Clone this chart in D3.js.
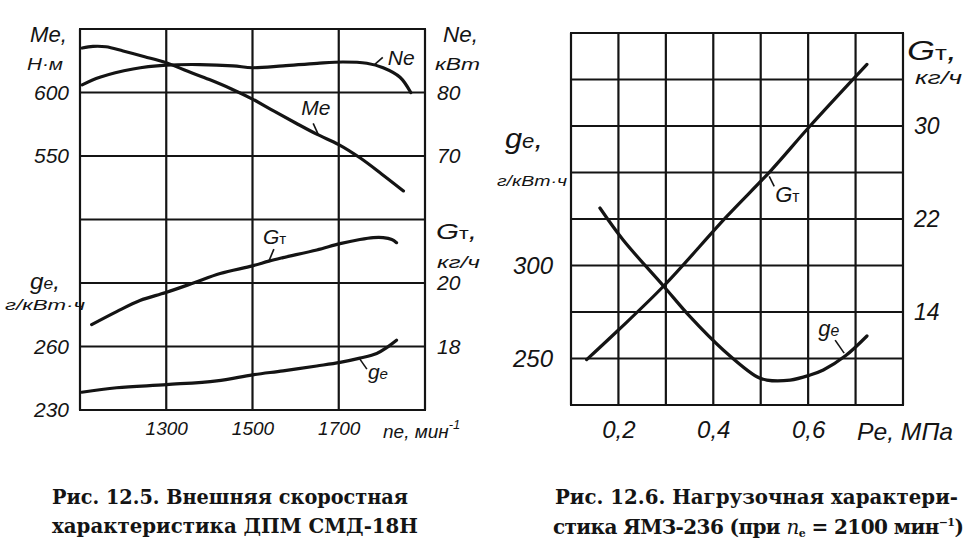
<!DOCTYPE html>
<html>
<head>
<meta charset="utf-8">
<script src="https://cdn.jsdelivr.net/npm/d3@7"></script>
<style>
body { margin: 0; background: #fff; }
svg text { font-family: "Liberation Sans", sans-serif; font-style: italic; fill: #141414; }
svg text.caption { font-family: "DejaVu Serif", serif; font-style: normal; font-weight: bold; }
</style>
</head>
<body>
<script>
// Рис. 12.5 - внешняя скоростная характеристика
var rpmMe = [1105, 1130, 1160, 1200, 1250, 1300, 1350, 1400, 1450, 1500, 1550, 1600, 1650, 1700, 1750, 1800, 1850];
var torque = [635, 636.3, 636, 632.7, 628.2, 623.4, 616.7, 610.2, 603, 594.8, 585.3, 576, 567, 559, 548.4, 535.7, 522.5];

var rpmNe = [1105, 1146, 1223, 1300, 1378, 1455, 1500, 1571, 1650, 1710, 1765, 1803, 1842, 1867];
var power = [81.2, 82.4, 83.7, 84.3, 84.4, 84.2, 83.9, 84.2, 84.6, 84.8, 84.6, 83.9, 82.4, 80.0];

var rpmGt = [1127, 1185, 1239, 1299, 1363, 1425, 1500, 1538, 1571, 1649, 1703, 1749, 1780, 1803, 1823, 1834];
var fuelFlow = [18.69, 19.10, 19.45, 19.70, 20.00, 20.30, 20.54, 20.69, 20.80, 21.04, 21.24, 21.37, 21.43, 21.43, 21.37, 21.27];

var rpmGe = [1104, 1185, 1301, 1417, 1500, 1571, 1649, 1703, 1749, 1788, 1811, 1834];
var sfc = [238.4, 240.5, 242, 243.8, 246.6, 248.5, 250.8, 252.5, 254.5, 256.7, 259.5, 263];

var rpmGrid = [1100, 1300, 1500, 1700, 1900];
var meGrid = [350, 400, 450, 500, 550, 600, 650];
var rpmTicks = [1300, 1500, 1700];
var meTicks = [550, 600];
var neTicks = [70, 80];
var gtTicksLeft = [18, 20];
var geTicksLeft = [230, 260];

// Рис. 12.6 - нагрузочная характеристика
var peGe = [0.161, 0.21, 0.295, 0.351, 0.421, 0.492, 0.513, 0.562, 0.604, 0.632, 0.678, 0.724];
var loadSfc = [330.9, 313.7, 289, 272.5, 254.6, 240.2, 238.4, 238.4, 241.1, 243.8, 251.3, 262.1];

var peGt = [0.133, 0.2, 0.297, 0.428, 0.52, 0.604, 0.724];
var loadFuel = [9.9, 12.45, 16.3, 22.2, 26.1, 30.0, 35.3];

var peGrid = [0.1, 0.2, 0.3, 0.4, 0.5, 0.6, 0.7, 0.8];
var geGridRight = [225, 250, 275, 300, 325, 350, 375, 400, 425];
var peTicks = [0.2, 0.4, 0.6];
var geTicksRight = [250, 300];
var gtTicksRight = [14, 22, 30];


var width = 980;
var height = 546;
var ink = '#141414';

var svg = d3.select('body').append('svg')
  .attr('width', width)
  .attr('height', height);
svg.append('rect').attr('width', width).attr('height', height).attr('fill', '#fff');

// scales
var x1 = d3.scaleLinear().domain([1100, 1900]).range([80, 425]);
var yMe = d3.scaleLinear().domain([350, 650]).range([410, 29]);
var yNe = d3.scaleLinear().domain([30, 90]).range([410, 29]);
var yGt = d3.scaleLinear().domain([16, 28]).range([410, 29]);
var yGe = d3.scaleLinear().domain([230, 410]).range([410, 29]);

var x2 = d3.scaleLinear().domain([0.1, 0.8]).range([571, 903]);
var yGe2 = d3.scaleLinear().domain([225, 425]).range([405, 33]);
var yGt2 = d3.scaleLinear().domain([6, 38]).range([405, 33]);

function zip(xs, ys) {
  return xs.map(function(d, i) { return [d, ys[i]]; });
}

function drawGrid(x, y, xs, ys) {
  var g = svg.append('g');
  g.selectAll('line.v').data(xs).enter().append('line')
    .attr('x1', function(d) { return x(d); })
    .attr('x2', function(d) { return x(d); })
    .attr('y1', y.range()[0])
    .attr('y2', y.range()[1]);
  g.selectAll('line.h').data(ys).enter().append('line')
    .attr('x1', x.range()[0] - 1)
    .attr('x2', x.range()[1] + 1)
    .attr('y1', function(d) { return y(d); })
    .attr('y2', function(d) { return y(d); });
  g.selectAll('line')
    .attr('stroke', ink)
    .attr('stroke-width', 2.2);
}

function drawCurve(x, y, pts) {
  var line = d3.line()
    .x(function(d) { return x(d[0]); })
    .y(function(d) { return y(d[1]); })
    .curve(d3.curveCatmullRom.alpha(0.5));
  svg.append('path')
    .attr('d', line(pts))
    .attr('fill', 'none')
    .attr('stroke', ink)
    .attr('stroke-width', 3.2)
    .attr('stroke-linecap', 'round')
    .attr('stroke-linejoin', 'round');
}

function tickLabels(axis, tx, ty, size) {
  var g = svg.append('g').attr('transform', 'translate(' + tx + ',' + ty + ')');
  g.call(axis);
  g.select('.domain').remove();
  g.selectAll('.tick line').remove();
  g.selectAll('text').attr('font-size', size);
  return g;
}

function comma(d) {
  return String(d).replace('.', ',');
}

// text with an optional small subscript part and tail
function label(x, y, main, sub, tail, size, len) {
  var t = svg.append('text').attr('x', x).attr('y', y).attr('font-size', size);
  t.append('tspan').text(main);
  if (sub) {
    var s = t.append('tspan').attr('font-size', size * 0.72).text(sub);
    if (sub === 'т') {
      s.style('font-style', 'normal');
    }
  }
  if (tail) {
    t.append('tspan').text(tail);
  }
  if (len) {
    t.attr('textLength', len).attr('lengthAdjust', 'spacingAndGlyphs');
  }
  return t;
}

// curve name with a short leader, positioned from one data point of the curve
function curveName(x, y, pt, lead, off, main, sub, size) {
  var px = x(pt[0]);
  var py = y(pt[1]);
  svg.append('line')
    .attr('x1', px + lead[0]).attr('y1', py + lead[1])
    .attr('x2', px + lead[2]).attr('y2', py + lead[3])
    .attr('stroke', ink)
    .attr('stroke-width', 1.6);
  label(px + off[0], py + off[1], main, sub, null, size);
}

// ---------- left chart ----------
drawGrid(x1, yMe, rpmGrid, meGrid);

drawCurve(x1, yMe, zip(rpmMe, torque));
drawCurve(x1, yNe, zip(rpmNe, power));
drawCurve(x1, yGt, zip(rpmGt, fuelFlow));
drawCurve(x1, yGe, zip(rpmGe, sfc));

tickLabels(d3.axisLeft(yMe).tickValues(meTicks).tickSize(0).tickPadding(11), 80, 0, 21);
tickLabels(d3.axisRight(yNe).tickValues(neTicks).tickSize(0).tickPadding(12), 425, 0, 21);
tickLabels(d3.axisRight(yGt).tickValues(gtTicksLeft).tickSize(0).tickPadding(12), 425, 0, 21);
tickLabels(d3.axisLeft(yGe).tickValues(geTicksLeft).tickSize(0).tickPadding(11), 80, 0, 21);
tickLabels(d3.axisBottom(x1).tickValues(rpmTicks).tickFormat(d3.format('d')).tickSize(0).tickPadding(12), 0, 410, 19);

label(30, 42, 'Me,', null, null, 22, 37);
label(27, 70, 'Н·м', null, null, 17, 36);
label(443, 42, 'Ne,', null, null, 22, 35);
label(435, 70, 'кВт', null, null, 17, 45);
label(436, 239, 'G', 'т', ',', 22, 41);
label(437, 268, 'кг/ч', null, null, 17, 43);
label(30, 289, 'g', 'e', ',', 22, 30);
label(5, 310, 'г/кВт·ч', null, null, 15, 80);

var xt = label(383, 438, 'nе, мин', null, null, 19, null);
xt.append('tspan').attr('font-size', 13).attr('dy', -9).text('-1');

curveName(x1, yNe, [rpmNe[10], power[10]], [8, 1, 16, -6], [21, 2], 'Ne', null, 21);
curveName(x1, yMe, [rpmMe[12], torque[12]], [1, 0, -4, -11], [-16, -19], 'Me', null, 21);
curveName(x1, yGt, [rpmGt[7], fuelFlow[7]], [0, 0, 5, -12], [-6, -17], 'G', 'т', 21);
curveName(x1, yGe, [rpmGe[8], sfc[8]], [0, 1, 7, 11], [8, 21], 'g', 'e', 21);

// ---------- right chart ----------
drawGrid(x2, yGe2, peGrid, geGridRight);

drawCurve(x2, yGe2, zip(peGe, loadSfc));
drawCurve(x2, yGt2, zip(peGt, loadFuel));

tickLabels(d3.axisLeft(yGe2).tickValues(geTicksRight).tickSize(0).tickPadding(18), 571, 0, 24);
tickLabels(d3.axisRight(yGt2).tickValues(gtTicksRight).tickSize(0).tickPadding(11), 903, 0, 23);
tickLabels(d3.axisBottom(x2).tickValues(peTicks).tickFormat(comma).tickSize(0).tickPadding(16), 0, 405, 24);

label(907, 60, 'G', 'т', ',', 27, 50);
label(915, 84, 'кг/ч', null, null, 18, 47);
label(505, 148, 'g', 'e', ',', 27, 38);
label(497, 186, 'г/кВт·ч', null, null, 14, 70);
label(857, 440, 'Pe, МПа', null, null, 24, 96);

curveName(x2, yGt2, [peGt[4], loadFuel[4]], [-1, 5, 4, 15], [5, 31], 'G', 'т', 22);
curveName(x2, yGe2, [peGe[10], loadSfc[10]], [-1, -3, -10, -16], [-27, -20], 'g', 'e', 22);

// ---------- captions ----------
function caption(x, y, str, len) {
  return svg.append('text').attr('class', 'caption')
    .attr('x', x).attr('y', y)
    .attr('font-size', 20)
    .attr('textLength', len)
    .attr('lengthAdjust', 'spacingAndGlyphs')
    .text(str);
}

caption(52, 504, 'Рис. 12.5. Внешняя скоростная', 356);
caption(52, 533, 'характеристика ДПМ СМД-18Н', 366);
caption(555, 504, 'Рис. 12.6. Нагрузочная характери-', 403);

var cap = svg.append('text').attr('class', 'caption')
  .attr('x', 553).attr('y', 534)
  .attr('font-size', 20)
  .style('letter-spacing', '-0.6px');
cap.append('tspan').text('стика ЯМЗ-236 (при ');
cap.append('tspan').style('font-style', 'italic').style('font-weight', 'normal').text('n');
cap.append('tspan').attr('font-size', 11).attr('dy', 3).text('е');
cap.append('tspan').attr('dy', -3).text(' = 2100 мин');
cap.append('tspan').attr('font-size', 11).attr('dy', -8).text('−1');
cap.append('tspan').attr('dy', 8).text(')');
</script>
</body>
</html>
